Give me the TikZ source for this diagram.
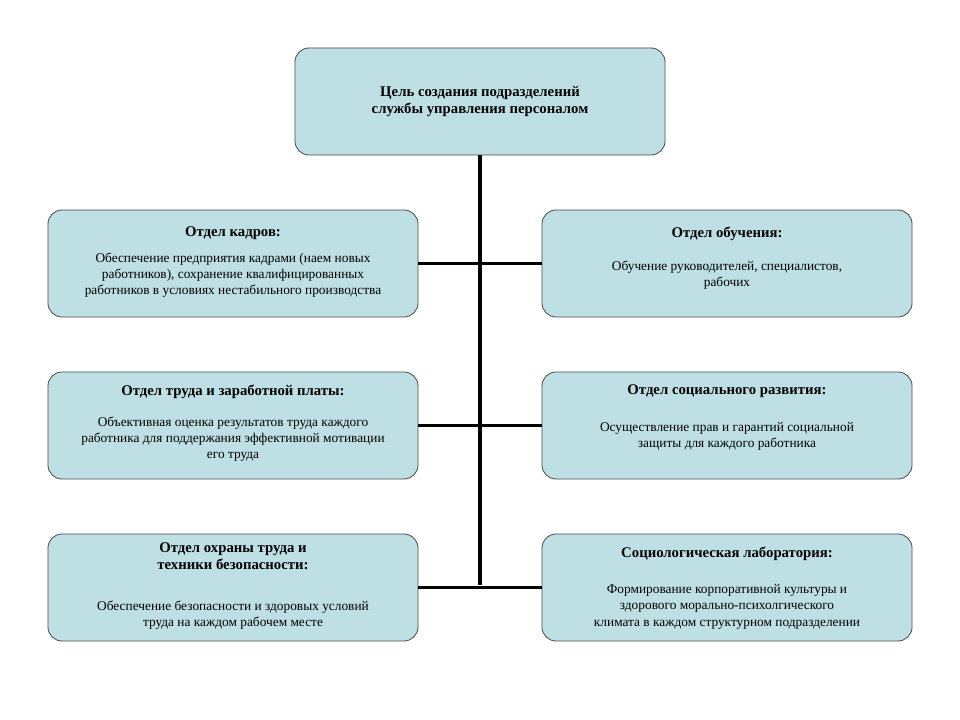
\documentclass[tikz,border=0pt]{standalone}
\usepackage{fontspec}
\setmainfont{Liberation Serif}
\usetikzlibrary{positioning}
\definecolor{boxfill}{RGB}{190,224,228}
\tikzset{
  unit/.style={draw=black!70,fill=boxfill,rounded corners=10pt,line width=0.6pt,
    minimum width=9.25cm,minimum height=2.675cm},
  head/.style={font=\fontsize{10.5}{12.5}\selectfont\bfseries,align=center},
  body/.style={font=\fontsize{9.5}{11.5}\selectfont,align=center},
  link/.style={line width=2.2pt}
}
\begin{document}
\begin{tikzpicture}[x=0.025cm,y=-0.025cm]
  \useasboundingbox (0,0) rectangle (960,720);
  % goal
  \node[unit,minimum height=2.675cm] (goal) at (480,101.5) {};
  \node[head] at (goal) {Цель создания подразделений\\ службы управления персоналом};

  % left column
  \node[unit] (kadr) at (233,263.5) {};
  \node[head,below=0.3cm of kadr.north] {Отдел кадров:};
  \node[body,below=0.95cm of kadr.north] {Обеспечение предприятия кадрами (наем новых\\работников), сохранение квалифицированных\\работников в условиях нестабильного производства};

  \node[unit] (trud) at (233,425.5) {};
  \node[head,below=0.2cm of trud.north] {Отдел труда и заработной платы:};
  \node[body,below=1.0cm of trud.north] {Объективная оценка результатов труда каждого\\работника для поддержания эффективной мотивации\\его труда};

  \node[unit] (ohrana) at (233,587.5) {};
  \node[head,below=0.1cm of ohrana.north] {Отдел охраны труда и\\техники безопасности:};
  \node[body,below=1.55cm of ohrana.north] {Обеспечение безопасности и здоровых условий\\труда на каждом рабочем месте};

  % right column
  \node[unit] (obuch) at (727,263.5) {};
  \node[head,below=0.3cm of obuch.north] {Отдел обучения:};
  \node[body,below=1.15cm of obuch.north] {Обучение руководителей, специалистов,\\рабочих};

  \node[unit] (social) at (727,425.5) {};
  \node[head,below=0.2cm of social.north] {Отдел социального развития:};
  \node[body,below=1.15cm of social.north] {Осуществление прав и гарантий социальной\\защиты для каждого работника};

  \node[unit] (lab) at (727,587.5) {};
  \node[head,below=0.2cm of lab.north] {Социологическая лаборатория:};
  \node[body,below=1.15cm of lab.north] {Формирование корпоративной культуры и\\здорового морально-психолгического\\климата в каждом структурном подразделении};

  % connectors
  \coordinate (trunk) at (480,585);
  \draw[link] (goal.south) -- (trunk);
  \draw[link] (kadr.east) -- (obuch.west);
  \draw[link] (trud.east) -- (social.west);
  \draw[link] (ohrana.east) -- (lab.west);
\end{tikzpicture}
\end{document}
